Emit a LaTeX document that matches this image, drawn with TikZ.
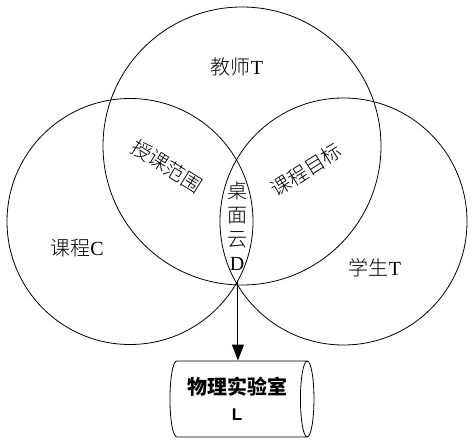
\documentclass[tikz,border=0pt]{standalone}
\usepackage{fontspec}
\setmainfont{Liberation Serif}
\newfontfamily\cjk{Noto Sans CJK SC Light}
\newfontfamily\cjkb{Noto Sans CJK SC}
\newfontfamily\latsans{Liberation Sans}
\usetikzlibrary{arrows.meta,positioning,shapes.geometric}

\begin{document}
\begin{tikzpicture}[
  x=1pt,y=-1pt,
  set/.style={draw,circle,line width=0.8pt,inner sep=0pt},
  lbl/.style={font=\fontsize{20}{24}\selectfont,inner sep=1pt},
  store/.style={draw,cylinder,aspect=0.27,line width=0.8pt,
              minimum height=144pt,minimum width=76pt,align=center,
              font=\fontsize{20}{26}\selectfont\bfseries},
  >={Triangle[length=16pt,width=12pt]}]
\useasboundingbox (0,0) rectangle (474,444);
\node[set,minimum size=278pt] (teacher) at (242,146) {};
\node[set,minimum size=246pt] (course) at (130,221.5) {};
\node[set,minimum size=247pt] (student) at (343.5,221.5) {};
\node[lbl] (tname) at (237,67) {{\cjk 教师}T};
\node[lbl] (cname) at (77,248) {{\cjk 课程}C};
\node[lbl] (sname) at (375,268) {{\cjk 学生}T};
\node[lbl,rotate=-32] (range) at (167,166) {\cjk 授课范围};
\node[lbl,rotate=32] (goal) at (306,170) {\cjk 课程目标};
\node[lbl,align=center] (desk) at (237,226) {{\cjk 桌}\\{\cjk 面}\\{\cjk 云}\\D};
\node[store] (lab) at (237,399) {{\cjkb 物理实验室}\\{\latsans\fontsize{17}{20}\selectfont L}};
\draw[->,line width=1pt] (course.-29.8) -- (course.-29.8 |- lab.north);
\end{tikzpicture}
\end{document}
